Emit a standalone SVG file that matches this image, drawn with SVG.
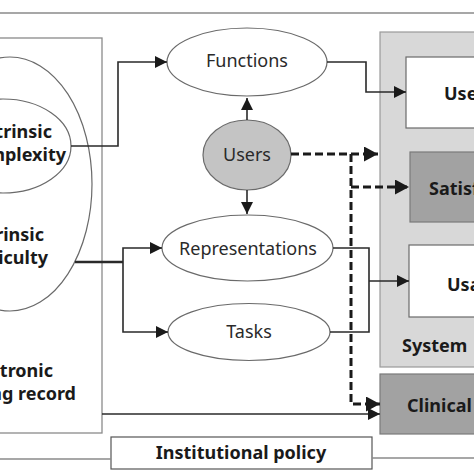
<svg xmlns="http://www.w3.org/2000/svg" width="474" height="474" viewBox="0 0 474 474">
<defs>
<style>
.frame{fill:none;stroke:#8a8a8a;stroke-width:1.3}
.ell{fill:#fff;stroke:#6a6a6a;stroke-width:1.2}
.ell-out{fill:none;stroke:#6a6a6a;stroke-width:1.2}
.user{fill:#c4c4c4;stroke:#6a6a6a;stroke-width:1.2}
.sys{fill:#d8d8d8;stroke:#9a9a9a;stroke-width:1.2}
.white{fill:#fff;stroke:#6a6a6a;stroke-width:1.2}
.dark{fill:#a2a2a2;stroke:#7a7a7a;stroke-width:1.2}
.ln{fill:none;stroke:#2a2a2a;stroke-width:1.6}
.dash{fill:none;stroke:#1a1a1a;stroke-width:3;stroke-dasharray:8 4}
.b{font-family:"Noto Sans","Noto Sans CJK KR",sans-serif;font-weight:bold;font-size:18px;fill:#1a1a1a}
.r{font-family:"Noto Sans","Noto Sans CJK KR",sans-serif;font-size:18px;fill:#2a2a2a}
</style>
<marker id="ah" markerUnits="userSpaceOnUse" markerWidth="13" markerHeight="12" refX="12" refY="6" orient="auto">
<path d="M0,0 L12,6 L0,12 z" fill="#1a1a1a"/>
</marker>
<marker id="ahd" markerUnits="userSpaceOnUse" markerWidth="15" markerHeight="15" refX="14" refY="7.5" orient="auto">
<path d="M0,0 L14,7.5 L0,15 z" fill="#1a1a1a"/>
</marker>
</defs>
<rect width="474" height="474" fill="#fff"/>
<line x1="0" y1="13" x2="474" y2="13" class="frame"/>

<g id="ehr">
<rect x="-20" y="38" width="122" height="395" class="frame"/>
<ellipse cx="10" cy="184" rx="82" ry="127" class="ell-out"/>
<text class="b" text-anchor="end"><tspan x="53" y="377">Electronic</tspan><tspan x="76" y="400">nursing record</tspan></text>
</g>
<g id="intrinsic">
<ellipse cx="3" cy="146" rx="68" ry="47" class="ell"/>
<text class="b" text-anchor="end"><tspan x="52" y="138">Intrinsic</tspan><tspan x="66" y="161">complexity</tspan></text>
</g>
<g id="extrinsic">
<text class="b" text-anchor="end"><tspan x="44" y="241">Extrinsic</tspan><tspan x="48" y="264">difficulty</tspan></text>
</g>

<g id="system">
<rect x="380" y="32" width="120" height="335" class="sys"/>
<text class="b" x="402" y="352">System</text>
</g>
<g id="useful">
<rect x="406" y="57" width="100" height="71" class="white"/>
<text class="b" x="444" y="100">Useful</text>
</g>
<g id="satisfying">
<rect x="410" y="152" width="100" height="70" class="dark"/>
<text class="b" x="429" y="195">Satisfying</text>
</g>
<g id="usable">
<rect x="409" y="245" width="100" height="72" class="white"/>
<text class="b" x="447" y="291">Usable</text>
</g>
<g id="clinical">
<rect x="380" y="374" width="120" height="60" class="dark"/>
<text class="b" x="407" y="412">Clinical</text>
</g>
<g id="policy">
<rect x="111" y="437" width="261" height="32" class="white" style="stroke:#555"/>
<text class="b" x="241" y="459" text-anchor="middle">Institutional policy</text>
</g>

<g id="functions">
<ellipse cx="247" cy="62" rx="80" ry="34" class="ell"/>
<text class="r" x="247" y="67" text-anchor="middle">Functions</text>
</g>
<g id="users">
<ellipse cx="247" cy="155" rx="44" ry="35" class="user"/>
<text class="r" x="247" y="161" text-anchor="middle">Users</text>
</g>
<g id="representations">
<ellipse cx="247.5" cy="248" rx="85.5" ry="33" class="ell"/>
<text class="r" x="248" y="255" text-anchor="middle">Representations</text>
</g>
<g id="tasks">
<ellipse cx="249" cy="332" rx="81" ry="28.5" class="ell"/>
<text class="r" x="249" y="338" text-anchor="middle">Tasks</text>
</g>

<g id="connectors">
<polyline points="71,146 118,146 118,62 167,62" class="ln" marker-end="url(#ah)"/>
<line x1="75" y1="262" x2="123" y2="262" class="ln" style="stroke-width:2.4"/>
<polyline points="123,262 123,248 162,248" class="ln" marker-end="url(#ah)"/>
<polyline points="123,262 123,332 168,332" class="ln" marker-end="url(#ah)"/>
<line x1="247" y1="120" x2="247" y2="98" class="ln" marker-end="url(#ah)"/>
<line x1="247" y1="190" x2="247" y2="214" class="ln" marker-end="url(#ah)"/>
<polyline points="327,62 366,62 366,92 406,92" class="ln" marker-end="url(#ah)"/>
<polyline points="333,248 369,248 369,332 330,332" class="ln"/>
<line x1="369" y1="281" x2="409" y2="281" class="ln" marker-end="url(#ah)"/>
<line x1="102" y1="414" x2="380" y2="414" class="ln" marker-end="url(#ah)"/>
<line x1="0" y1="459" x2="111" y2="459" class="frame"/>
<line x1="372" y1="458" x2="474" y2="458" class="frame"/>
<line x1="291" y1="154" x2="378" y2="154" class="dash" marker-end="url(#ahd)"/>
<polyline points="351,154 351,404 380,404" class="dash" marker-end="url(#ahd)"/>
<line x1="351" y1="187" x2="409" y2="187" class="dash" marker-end="url(#ahd)"/>
</g>
</svg>
